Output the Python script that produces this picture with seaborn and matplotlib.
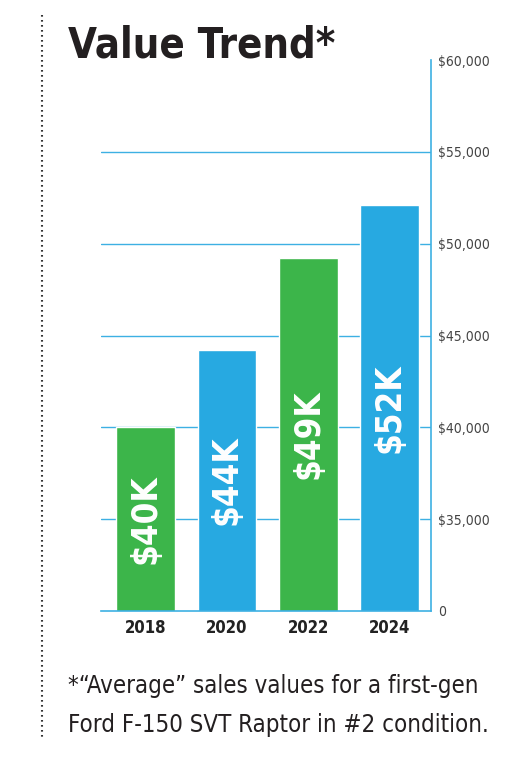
import pandas as pd
import seaborn as sns
import matplotlib.pyplot as plt
from matplotlib import font_manager
from matplotlib.lines import Line2D

# data
years = ['2018', '2020', '2022', '2024']
values = [40000, 44200, 49200, 52100]
bar_labels = ['$40K', '$44K', '$49K', '$52K']
tick_values = [30000, 35000, 40000, 45000, 50000, 55000, 60000]
tick_labels = ['0', '$35,000', '$40,000', '$45,000', '$50,000', '$55,000', '$60,000']

green = '#3cb54a'
blue = '#27a9e1'
line_blue = '#3db0e3'

# look for a condensed face, the reference uses a narrow type
has_condensed = any('condensed' in f.fname.lower() for f in font_manager.fontManager.ttflist
                    if f.name == 'DejaVu Sans')
stretch = 'condensed' if has_condensed else 'normal'
shrink = 1.0 if has_condensed else 0.87

df = pd.DataFrame({'Year': years, 'Value': values})

sns.set_style('white')
plt.rcParams['font.family'] = ['DejaVu Sans']
plt.rcParams['font.stretch'] = stretch

fig = plt.figure(figsize=(5.17, 7.57), dpi=100)
ax = fig.add_axes([101 / 517, 1 - 611 / 757, 330 / 517, 551 / 757])

sns.barplot(x='Year', y='Value', hue='Year', data=df, palette=[green, blue, green, blue],
            width=0.72, legend=False, ax=ax, saturation=1)

ax.set_ylim(30000, 60000)
ax.set_xlim(-0.55, 3.51)
ax.yaxis.tick_right()
ax.set_yticks(tick_values)
ax.set_yticklabels(tick_labels, fontsize=10 * shrink, color='#444444', fontstretch=stretch)
ax.tick_params(axis='y', length=0, pad=5)
ax.tick_params(axis='x', length=0, pad=6)
for t in ax.get_xticklabels():
    t.set_fontweight('bold')
    t.set_fontsize(12 * shrink)
    t.set_color('#222222')
    t.set_fontstretch(stretch)
ax.set_xlabel('')
ax.set_ylabel('')

ax.grid(axis='y', color=line_blue, linewidth=1)
ax.set_axisbelow(True)
ax.yaxis.get_gridlines()[-1].set_visible(False)
ax.yaxis.get_gridlines()[0].set_visible(False)
for side in ['top', 'left']:
    ax.spines[side].set_visible(False)
for side in ['right', 'bottom']:
    ax.spines[side].set_color(line_blue)
    ax.spines[side].set_linewidth(1.2)

for i, (v, lab) in enumerate(zip(values, bar_labels)):
    ax.text(i, (30000 + v) / 2, lab, rotation=90, ha='center', va='center',
            color='white', fontsize=25 * shrink, fontweight='bold', fontstretch=stretch)

fig.text(68 / 517, 1 - 45 / 757, 'Value Trend*', fontsize=30 * shrink, fontweight='bold',
         color='#231f20', va='center', ha='left', fontstretch=stretch)

fig.text(68 / 517, 1 - 686 / 757, '*\u201cAverage\u201d sales values for a first-gen',
         fontsize=17.2 * shrink, color='#231f20', va='center', ha='left', fontstretch=stretch)
fig.text(68 / 517, 1 - 725 / 757, 'Ford F-150 SVT Raptor in #2 condition.',
         fontsize=17.2 * shrink, color='#231f20', va='center', ha='left', fontstretch=stretch)

fig.add_artist(Line2D([42 / 517, 42 / 517], [1 - 15 / 757, 1 - 740 / 757],
                      transform=fig.transFigure, color='#333333',
                      linestyle=(0, (0.8, 1.6)), linewidth=1.5))

fig.savefig('out.png', dpi=100)
